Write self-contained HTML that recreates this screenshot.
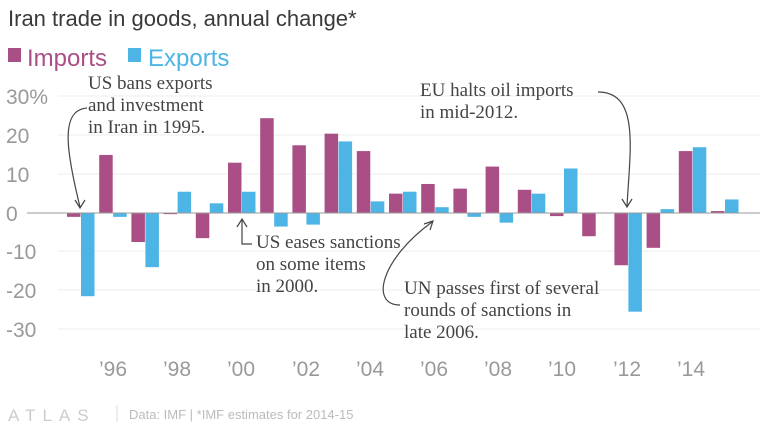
<!DOCTYPE html>
<html><head><meta charset="utf-8"><style>
body{margin:0;background:#fff;width:768px;height:432px;overflow:hidden}
svg text{font-family:"Liberation Sans",sans-serif}
.s{font-family:"Liberation Serif",serif;font-size:19px;fill:#444}
</style></head><body>
<svg width="768" height="432" viewBox="0 0 768 432" xmlns="http://www.w3.org/2000/svg">
<text x="8" y="26" font-size="22" fill="#3a3a3a">Iran trade in goods, annual change*</text>
<rect x="8" y="48" width="13" height="14" fill="#a94f86"/>
<text x="27" y="66" font-size="24" fill="#a94f86">Imports</text>
<rect x="128" y="48" width="13" height="14" fill="#4db4e6"/>
<text x="148" y="66" font-size="24" fill="#4db4e6">Exports</text>
<g stroke="#ececec" stroke-width="1">
<line x1="58" x2="760" y1="96" y2="96"/><line x1="58" x2="760" y1="135" y2="135"/><line x1="58" x2="760" y1="174" y2="174"/>
<line x1="58" x2="760" y1="251" y2="251"/><line x1="58" x2="760" y1="290" y2="290"/><line x1="58" x2="760" y1="329" y2="329"/>
</g>
<g font-size="21" fill="#999">
<text x="6" y="104">30%</text><text x="6" y="143">20</text><text x="6" y="182">10</text><text x="6" y="221">0</text>
<text x="6" y="259">-10</text><text x="6" y="298">-20</text><text x="6" y="337">-30</text>
</g>
<g id="bars"></g>
<line x1="27" x2="760" y1="213" y2="213" stroke="#999" stroke-width="1"/>
<g font-size="21" fill="#999" text-anchor="middle">
<text x="113" y="376">’96</text><text x="177" y="376">’98</text><text x="241" y="376">’00</text><text x="306" y="376">’02</text>
<text x="370" y="376">’04</text><text x="434" y="376">’06</text><text x="498" y="376">’08</text><text x="562" y="376">’10</text>
<text x="627" y="376">’12</text><text x="691" y="376">’14</text>
</g>
<text class="s" x="88" y="89">US bans exports</text>
<text class="s" x="88" y="111">and investment</text>
<text class="s" x="88" y="133">in Iran in 1995.</text>
<text class="s" x="420" y="96">EU halts oil imports</text>
<text class="s" x="420" y="118">in mid-2012.</text>
<text class="s" x="256" y="248">US eases sanctions</text>
<text class="s" x="256" y="270">on some items</text>
<text class="s" x="256" y="292">in 2000.</text>
<text class="s" x="404" y="294">UN passes first of several</text>
<text class="s" x="404" y="316">rounds of sanctions in</text>
<text class="s" x="404" y="338">late 2006.</text>
<g fill="none" stroke="#444" stroke-width="1.2">
<path d="M87 108 C 60 110, 66 150, 80 207"/><path d="M75 200 L80 208 L85 200"/>
<path d="M598 92 C 640 92, 630 150, 627 206"/><path d="M622 199 L627 207 L632 199"/>
<path d="M252 244 L242 244 L242 220"/><path d="M237 227 L242 219 L247 227"/>
<path d="M400 305 C 370 305, 380 260, 432 222"/><path d="M424 224 L433 221 L430 230"/>
</g>
<text x="8" y="421" font-size="17" fill="#ccc" letter-spacing="7">ATLAS</text>
<line x1="117" x2="117" y1="405" y2="422" stroke="#ddd"/>
<text x="129" y="419" font-size="13" fill="#bbb">Data: IMF | *IMF estimates for 2014-15</text>
</svg>
<script>
var d=[[-1,-21.5],[15,-1],[-7.5,-14],[-0.3,5.5],[-6.5,2.5],[13,5.5],[24.5,-3.5],[17.5,-3],[20.5,18.5],[16,3],[5,5.5],[7.5,1.5],[6.3,-1],[12,-2.5],[6,5],[-0.8,11.5],[-6,0],[-13.5,-25.5],[-9,1],[16,17],[0.5,3.5]];
var g=document.getElementById('bars'),s='';
d.forEach(function(v,i){var c=81+i*32.2;
[[v[0],c-14,'#a94f86'],[v[1],c,'#4db4e6']].forEach(function(b){var h=Math.abs(b[0])*3.87;var y=b[0]>0?213-h:213;
s+='<rect x="'+b[1]+'" y="'+y+'" width="13.5" height="'+h+'" fill="'+b[2]+'"/>';});});
g.innerHTML=s;
</script>
</body></html>
